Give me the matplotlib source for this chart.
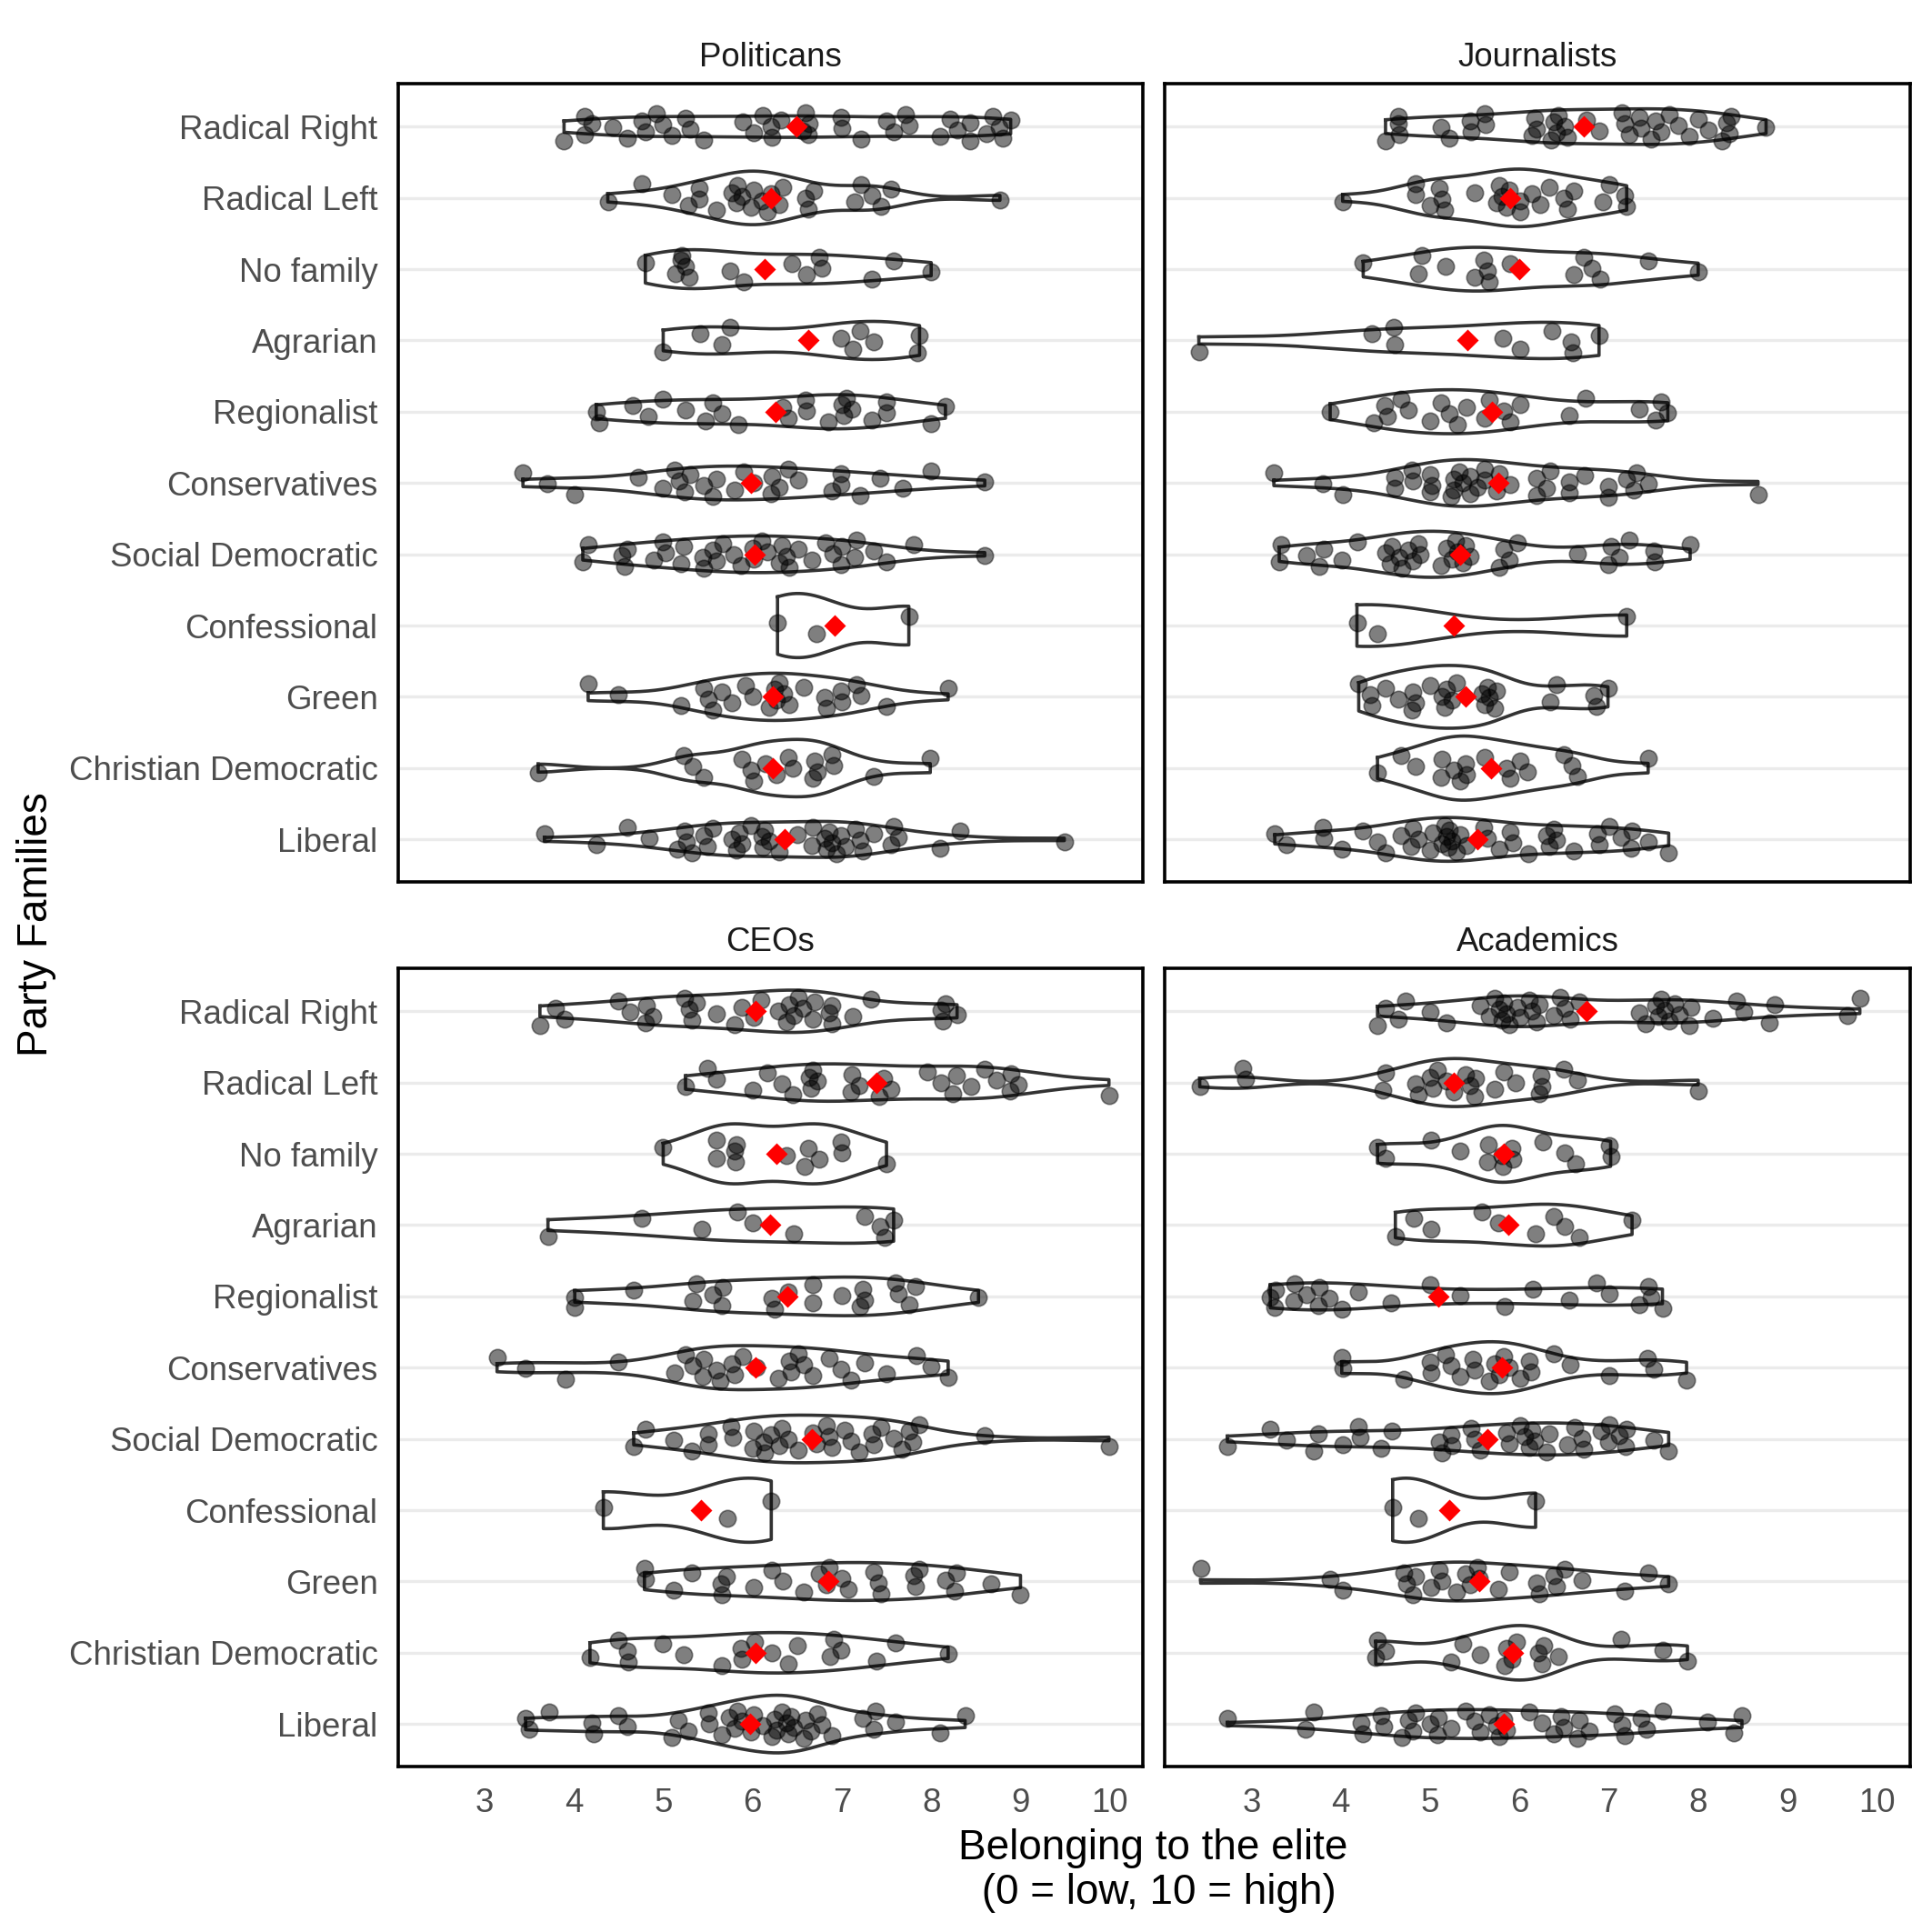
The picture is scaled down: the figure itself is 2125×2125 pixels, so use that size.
import numpy as np
import matplotlib.pyplot as plt

plt.rcParams['font.family'] = ['Liberation Sans', 'DejaVu Sans']

families = ["Radical Right", "Radical Left", "No family", "Agrarian", "Regionalist",
            "Conservatives", "Social Democratic", "Confessional", "Green",
            "Christian Democratic", "Liberal"]
panel_titles = ["Politicans", "Journalists", "CEOs", "Academics"]

# elite scores, one list per party family
politicians = {
    "Radical Right": [3.89, 4.20, 4.12, 4.12, 4.44, 4.60, 4.76, 4.80, 4.92, 5.00, 5.10, 5.25, 5.30, 5.45,
                      5.89, 6.01, 6.11, 6.21, 6.22, 6.32, 6.56, 6.59, 6.63, 6.62, 6.99, 7.00, 7.21, 7.50,
                      7.58, 7.71, 7.75, 8.10, 8.21, 8.29, 8.44, 8.44, 8.62, 8.69, 8.76, 8.80, 8.89],
    "Radical Left": [4.38, 4.76, 5.10, 5.28, 5.40, 5.40, 5.60, 5.77, 5.82, 5.83, 5.88, 5.98, 6.01, 6.10,
                     6.17, 6.21, 6.30, 6.34, 6.59, 6.62, 6.68, 7.14, 7.21, 7.34, 7.44, 7.55, 8.77],
    "No family": [4.80, 5.14, 5.21, 5.25, 5.29, 5.20, 5.75, 5.90, 6.44, 6.60, 6.75, 6.78, 7.34, 7.58, 8.00],
    "Agrarian": [5.00, 5.41, 5.66, 5.75, 6.99, 7.12, 7.20, 7.36, 7.85, 7.87],
    "Regionalist": [4.25, 4.28, 4.66, 4.83, 5.00, 5.25, 5.47, 5.56, 5.66, 5.84, 6.34, 6.40, 6.59, 6.60,
                    6.85, 7.00, 7.02, 7.05, 7.11, 7.34, 7.50, 7.50, 8.00, 8.16],
    "Conservatives": [3.43, 3.70, 4.01, 4.72, 5.00, 5.13, 5.18, 5.24, 5.30, 5.45, 5.56, 5.60, 5.80, 5.90,
                      6.01, 6.21, 6.22, 6.30, 6.40, 6.51, 6.89, 6.99, 6.99, 7.20, 7.43, 7.68, 8.00, 8.60],
    "Social Democratic": [4.10, 4.16, 4.54, 4.57, 4.60, 4.89, 5.00, 5.03, 5.20, 5.23, 5.44, 5.45, 5.56,
                          5.60, 5.67, 5.79, 5.87, 6.00, 6.01, 6.10, 6.17, 6.30, 6.33, 6.38, 6.41, 6.51,
                          6.66, 6.82, 6.90, 6.99, 7.00, 7.14, 7.16, 7.36, 7.50, 7.80, 8.60],
    "Confessional": [6.28, 6.72, 7.75],
    "Green": [4.16, 4.50, 5.20, 5.45, 5.50, 5.56, 5.66, 5.77, 5.92, 6.00, 6.19, 6.25, 6.27, 6.30, 6.35,
              6.41, 6.57, 6.81, 6.83, 6.99, 7.00, 7.16, 7.21, 7.50, 8.19],
    "Christian Democratic": [3.60, 5.23, 5.33, 5.45, 5.88, 5.98, 6.01, 6.15, 6.27, 6.40, 6.45, 6.67, 6.70,
                             6.73, 6.89, 6.91, 7.36, 7.99],
    "Liberal": [3.67, 4.25, 4.60, 4.84, 5.16, 5.24, 5.26, 5.32, 5.45, 5.49, 5.56, 5.77, 5.82, 5.85, 5.88,
                5.98, 6.10, 6.11, 6.14, 6.19, 6.30, 6.50, 6.66, 6.67, 6.81, 6.83, 6.86, 6.89, 6.94, 6.99,
                7.04, 7.15, 7.20, 7.23, 7.36, 7.55, 7.58, 7.63, 8.10, 8.32, 9.49],
}

journalists = {
    "Radical Right": [4.50, 4.64, 4.65, 4.64, 5.12, 5.21, 5.45, 5.46, 5.61, 5.62, 6.14, 6.17, 6.19, 6.35,
                      6.38, 6.41, 6.43, 6.51, 6.54, 6.75, 6.89, 7.15, 7.18, 7.23, 7.34, 7.36, 7.47, 7.52,
                      7.58, 7.68, 7.78, 7.90, 8.00, 8.11, 8.27, 8.32, 8.35, 8.37, 8.76],
    "Radical Left": [4.02, 4.84, 4.84, 5.00, 5.10, 5.13, 5.16, 5.50, 5.74, 5.77, 5.80, 5.85, 5.88, 6.01,
                     6.01, 6.14, 6.23, 6.33, 6.50, 6.54, 6.61, 6.93, 7.00, 7.18, 7.20],
    "No family": [4.25, 4.87, 4.91, 5.17, 5.50, 5.60, 5.64, 5.66, 5.89, 6.61, 6.72, 6.81, 6.90, 7.44, 8.00],
    "Agrarian": [2.41, 4.35, 4.60, 4.59, 5.81, 6.01, 6.36, 6.58, 6.60, 6.89],
    "Regionalist": [3.88, 4.37, 4.49, 4.52, 4.67, 4.76, 5.00, 5.12, 5.21, 5.30, 5.41, 5.61, 5.66, 5.82,
                    5.90, 6.01, 6.56, 6.74, 7.34, 7.52, 7.58, 7.66],
    "Conservatives": [3.25, 3.80, 4.02, 4.60, 4.60, 4.80, 4.81, 5.00, 5.00, 5.02, 5.23, 5.26, 5.26, 5.32,
                      5.37, 5.45, 5.45, 5.53, 5.61, 5.61, 5.74, 5.77, 5.90, 6.19, 6.19, 6.30, 6.34, 6.56,
                      6.56, 6.73, 6.99, 6.99, 7.20, 7.28, 7.31, 7.44, 8.67],
    "Social Democratic": [3.31, 3.33, 3.62, 3.76, 3.81, 4.01, 4.18, 4.50, 4.55, 4.57, 4.65, 4.68, 4.76,
                          4.81, 4.87, 4.89, 5.12, 5.18, 5.24, 5.28, 5.30, 5.37, 5.40, 5.45, 5.77, 5.82,
                          5.88, 5.98, 6.65, 6.99, 7.02, 7.12, 7.23, 7.50, 7.51, 7.91],
    "Confessional": [4.18, 4.41, 7.20],
    "Green": [4.20, 4.33, 4.35, 4.50, 4.64, 4.80, 4.81, 4.84, 5.00, 5.13, 5.16, 5.18, 5.24, 5.29, 5.58,
              5.61, 5.64, 5.66, 5.72, 5.74, 6.34, 6.41, 6.83, 6.86, 6.99],
    "Christian Democratic": [4.41, 4.67, 4.84, 5.12, 5.13, 5.26, 5.34, 5.40, 5.41, 5.61, 5.85, 5.90, 6.01,
                             6.09, 6.50, 6.59, 6.65, 7.44],
    "Liberal": [3.26, 3.39, 3.80, 3.81, 4.01, 4.25, 4.41, 4.50, 4.67, 4.79, 4.81, 4.87, 5.00, 5.03, 5.13,
                5.16, 5.18, 5.20, 5.21, 5.24, 5.29, 5.34, 5.41, 5.60, 5.64, 5.77, 5.90, 5.93, 6.10, 6.30,
                6.33, 6.38, 6.41, 6.61, 6.87, 6.89, 7.00, 7.14, 7.25, 7.26, 7.44, 7.67],
}

ceos = {
    "Radical Right": [3.62, 3.79, 3.90, 4.50, 4.63, 4.80, 4.81, 4.88, 5.24, 5.29, 5.32, 5.37, 5.60, 5.80,
                      5.88, 6.01, 6.09, 6.29, 6.38, 6.41, 6.46, 6.51, 6.56, 6.67, 6.70, 6.86, 6.89, 6.89,
                      7.12, 7.33, 8.11, 8.13, 8.16, 8.29],
    "Radical Left": [5.25, 5.49, 5.60, 6.00, 6.17, 6.33, 6.45, 6.63, 6.65, 6.67, 6.73, 7.10, 7.11, 7.19,
                     7.42, 7.47, 7.55, 7.96, 8.11, 8.24, 8.28, 8.45, 8.60, 8.73, 8.88, 8.89, 8.98, 9.99],
    "No family": [5.00, 5.60, 5.60, 5.80, 5.81, 5.82, 6.38, 6.58, 6.62, 6.75, 6.99, 7.00, 7.50],
    "Agrarian": [3.71, 4.76, 5.43, 5.83, 6.00, 6.46, 7.25, 7.43, 7.48, 7.58],
    "Regionalist": [4.01, 4.01, 4.67, 5.33, 5.37, 5.56, 5.66, 5.67, 6.22, 6.25, 6.40, 6.67, 6.67, 7.00,
                    7.20, 7.23, 7.26, 7.60, 7.63, 7.75, 7.83, 8.53],
    "Conservatives": [3.14, 3.46, 3.91, 4.50, 5.13, 5.25, 5.33, 5.44, 5.45, 5.60, 5.64, 5.77, 5.80, 5.89,
                      6.04, 6.29, 6.41, 6.43, 6.51, 6.57, 6.67, 6.86, 6.99, 7.10, 7.25, 7.50, 7.84, 8.00,
                      8.19],
    "Social Democratic": [4.67, 4.80, 5.12, 5.32, 5.50, 5.50, 5.76, 5.78, 6.00, 6.01, 6.13, 6.14, 6.21,
                          6.30, 6.33, 6.40, 6.51, 6.67, 6.72, 6.83, 6.86, 6.89, 7.03, 7.10, 7.19, 7.34,
                          7.36, 7.44, 7.58, 7.67, 7.75, 7.79, 7.87, 8.60, 9.99],
    "Confessional": [4.33, 5.72, 6.21],
    "Green": [4.79, 4.80, 5.12, 5.32, 5.65, 5.66, 5.71, 6.01, 6.22, 6.34, 6.57, 6.75, 6.83, 6.86, 7.00,
              7.07, 7.36, 7.41, 7.44, 7.80, 7.83, 7.87, 8.16, 8.26, 8.28, 8.67, 9.00],
    "Christian Democratic": [4.18, 4.50, 4.60, 4.61, 5.00, 5.23, 5.66, 5.87, 5.88, 6.02, 6.22, 6.40, 6.50,
                             6.87, 6.91, 6.99, 7.39, 7.60, 8.19],
    "Liberal": [3.46, 3.50, 3.72, 4.20, 4.22, 4.50, 4.60, 5.10, 5.17, 5.28, 5.50, 5.51, 5.66, 5.74, 5.80,
                5.83, 5.88, 5.98, 6.01, 6.11, 6.22, 6.25, 6.27, 6.33, 6.38, 6.40, 6.43, 6.46, 6.57, 6.59,
                6.65, 6.73, 6.78, 6.89, 7.23, 7.36, 7.38, 7.60, 8.10, 8.38],
}

academics = {
    "Radical Right": [4.41, 4.50, 4.64, 4.72, 5.00, 5.18, 5.56, 5.66, 5.72, 5.77, 5.80, 5.82, 5.85, 5.88,
                      5.98, 6.01, 6.11, 6.14, 6.19, 6.22, 6.38, 6.45, 6.51, 6.57, 6.67, 7.34, 7.41, 7.52,
                      7.55, 7.58, 7.63, 7.68, 7.74, 7.79, 7.90, 7.92, 8.16, 8.43, 8.51, 8.80, 8.86, 9.67,
                      9.81],
    "Radical Left": [2.42, 2.90, 2.93, 4.47, 4.50, 4.84, 4.87, 5.00, 5.03, 5.08, 5.18, 5.26, 5.40, 5.45,
                     5.50, 5.51, 5.72, 5.82, 5.96, 6.22, 6.24, 6.25, 6.50, 6.65, 8.00],
    "No family": [4.41, 4.50, 5.01, 5.34, 5.64, 5.65, 5.80, 5.81, 5.92, 5.93, 6.26, 6.51, 6.63, 7.00, 7.02],
    "Agrarian": [4.61, 4.82, 5.01, 5.58, 5.76, 6.18, 6.38, 6.51, 6.67, 7.26],
    "Regionalist": [3.21, 3.26, 3.27, 3.47, 3.48, 3.62, 3.75, 3.76, 3.87, 4.01, 4.20, 4.56, 5.00, 5.34,
                    5.83, 6.15, 6.56, 6.86, 7.00, 7.34, 7.44, 7.47, 7.60],
    "Conservatives": [4.01, 4.02, 4.70, 5.00, 5.01, 5.17, 5.23, 5.34, 5.48, 5.50, 5.66, 5.72, 5.77, 5.82,
                      5.88, 6.01, 6.11, 6.13, 6.38, 6.57, 7.00, 7.43, 7.50, 7.87],
    "Social Democratic": [2.73, 3.21, 3.39, 3.70, 3.75, 4.02, 4.20, 4.22, 4.45, 4.57, 5.10, 5.13, 5.23,
                          5.24, 5.46, 5.50, 5.56, 5.85, 5.88, 6.01, 6.06, 6.11, 6.14, 6.17, 6.30, 6.33,
                          6.54, 6.62, 6.70, 6.72, 6.91, 6.99, 7.00, 7.12, 7.19, 7.20, 7.50, 7.67],
    "Confessional": [4.58, 4.87, 6.18],
    "Green": [2.43, 3.88, 4.02, 4.70, 4.73, 4.81, 4.84, 5.01, 5.10, 5.13, 5.29, 5.40, 5.45, 5.53, 5.55,
              5.76, 5.88, 6.19, 6.22, 6.38, 6.41, 6.51, 6.70, 7.18, 7.44, 7.67],
    "Christian Democratic": [4.39, 4.41, 4.50, 5.23, 5.37, 5.56, 5.83, 5.85, 5.92, 5.97, 6.21, 6.25, 6.27,
                             6.43, 7.14, 7.60, 7.88],
    "Liberal": [2.73, 3.60, 3.70, 4.23, 4.25, 4.45, 4.48, 4.68, 4.76, 4.81, 4.84, 5.00, 5.08, 5.09, 5.23,
                5.40, 5.50, 5.56, 5.66, 5.74, 5.77, 5.82, 5.85, 6.11, 6.25, 6.38, 6.46, 6.50, 6.65, 6.67,
                6.78, 7.07, 7.15, 7.18, 7.36, 7.42, 7.60, 8.10, 8.40, 8.49],
}

panels = [politicians, journalists, ceos, academics]


def bw_nrd0(x):
    hi = np.std(x, ddof=1)
    q75, q25 = np.percentile(x, [75, 25])
    lo = min(hi, (q75 - q25) / 1.34)
    if lo <= 0:
        lo = hi
    return 0.9 * lo * len(x) ** -0.2


def violin_density(x):
    x = np.asarray(x, dtype=float)
    h = bw_nrd0(x)
    grid = np.linspace(x.min(), x.max(), 512)
    z = (grid[:, None] - x[None, :]) / h
    d = np.exp(-0.5 * z ** 2).sum(axis=1) / (len(x) * h * np.sqrt(2 * np.pi))
    return grid, d


# shared x range with 5% padding, like ggplot
all_vals = np.concatenate([np.asarray(v) for p in panels for v in p.values()])
span = all_vals.max() - all_vals.min()
xlim = (all_vals.min() - 0.05 * span, all_vals.max() + 0.05 * span)

fig = plt.figure(figsize=(10.625, 10.625), dpi=200)
lefts = [0.206, 0.603]
bottoms = [0.5434, 0.0855]
pw, ph = 0.3855, 0.4132

tick_col = '#4D4D4D'
for k, (data, title) in enumerate(zip(panels, panel_titles)):
    row, col = divmod(k, 2)
    ax = fig.add_axes([lefts[col], bottoms[row], pw, ph])
    ax.set_xlim(*xlim)
    ax.set_ylim(0.4, len(families) + 0.6)

    for i in range(len(families)):
        ax.axhline(i + 1, color='#EBEBEB', lw=1.2, zorder=0)

    dens = {f: violin_density(data[f]) for f in families}
    dmax = max(d.max() for g, d in dens.values())

    for i, fam in enumerate(families):
        y0 = len(families) - i
        grid, d = dens[fam]
        w = 0.45 * d / dmax
        ax.fill_between(grid, y0 - w, y0 + w, facecolor='white', edgecolor='none', zorder=1)
        xs = np.r_[grid, grid[::-1], grid[0]]
        ys = np.r_[y0 + w, (y0 - w)[::-1], y0 + w[0]]
        ax.plot(xs, ys, color='#333333', lw=1.3, zorder=2, solid_joinstyle='round')

        vals = np.asarray(data[fam])
        jit = ((np.arange(len(vals)) * 0.6180339887 + 0.37 * i) % 1 - 0.5) * 0.4
        ax.scatter(vals, y0 + jit, s=44, facecolor=(0, 0, 0, 0.5), edgecolor=(0, 0, 0, 0.45),
                   linewidths=0.6, zorder=3)
        ax.plot([vals.mean()], [y0], marker='D', color='red', markersize=6.2, mec='none', zorder=4)

    ax.set_yticks(range(len(families), 0, -1))
    ax.set_xticks(range(3, 11))
    if col == 0:
        ax.set_yticklabels(families, fontsize=13.2, color=tick_col)
    else:
        ax.set_yticklabels([])
    if row == 1:
        ax.set_xticklabels([str(t) for t in range(3, 11)], fontsize=13.2, color=tick_col)
    else:
        ax.set_xticklabels([])
    ax.tick_params(length=0, pad=8)
    for s in ax.spines.values():
        s.set_color('black')
        s.set_linewidth(1.3)
    ax.set_title(title, fontsize=13.2, color='#1A1A1A', pad=7)

fig.text(0.019, 0.5217, 'Party Families', rotation=90, ha='center', va='center', fontsize=16.5)
fig.text(0.597, 0.0535, 'Belonging to the elite\n (0 = low, 10 = high)', ha='center', va='top',
         fontsize=16.5, linespacing=1.13, multialignment='center')

fig.savefig('out.png', dpi=200, facecolor='white')
